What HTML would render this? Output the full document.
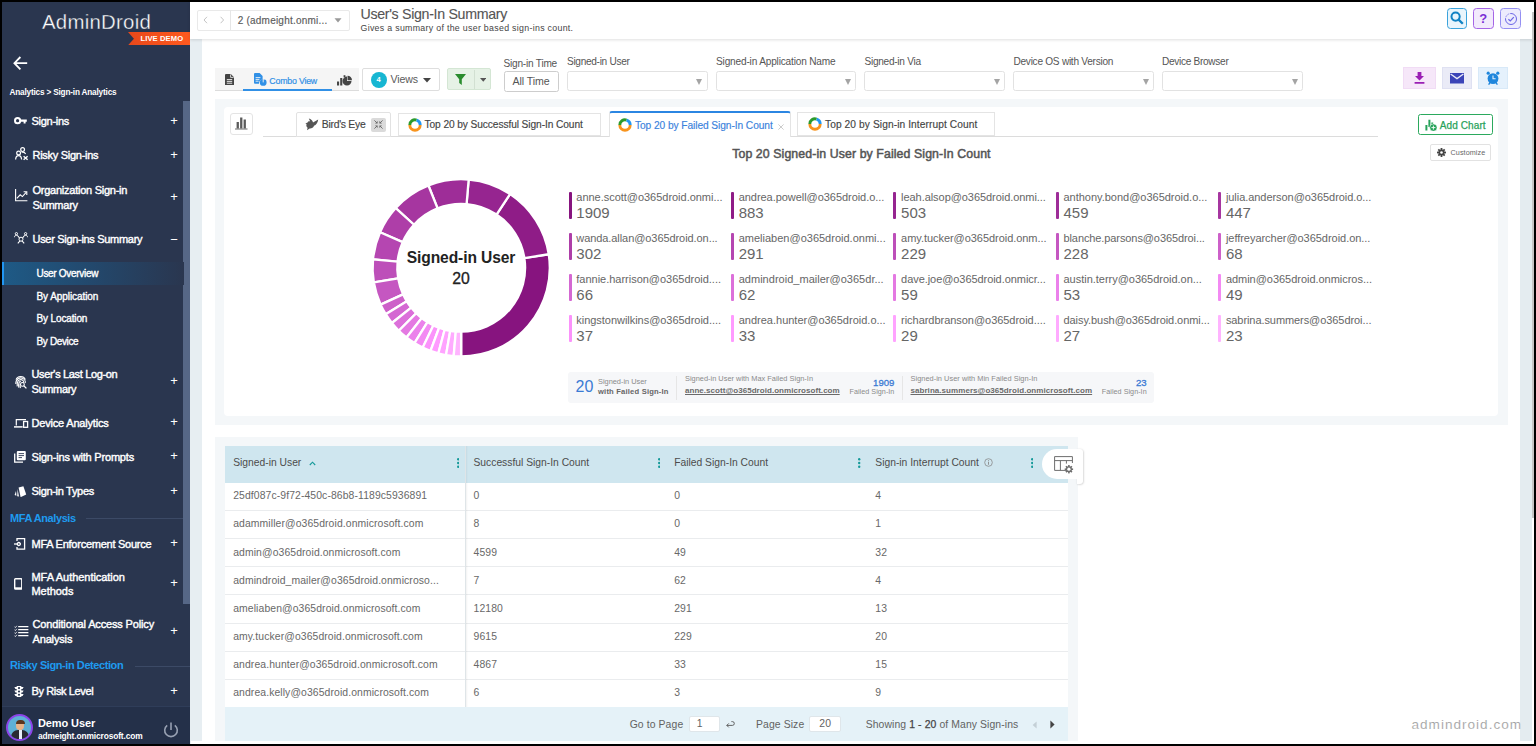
<!DOCTYPE html>
<html><head><meta charset="utf-8"><title>AdminDroid</title>
<style>
*{box-sizing:border-box;margin:0;padding:0}
html,body{width:1536px;height:746px;overflow:hidden;background:#000;font-family:"Liberation Sans",sans-serif;}
#root{position:absolute;left:0;top:0;width:1536px;height:746px;overflow:hidden;background:#000}
#root div,#root span,#root svg{position:absolute}
.t{white-space:nowrap;line-height:1}
/*SIDEBAR*/
.mi{left:31.5px;font-size:11px;font-weight:normal;-webkit-text-stroke:0.4px #fff;color:#fff;white-space:nowrap;line-height:14.5px;letter-spacing:-0.3px}
.sub{left:36.5px;font-size:10px;font-weight:normal;-webkit-text-stroke:0.35px #fff;color:#fff;white-space:nowrap;line-height:12px;letter-spacing:-0.2px}
.pl{left:169px;width:10px;text-align:center;font-size:13px;color:#fff;line-height:12px}
.sec{left:10px;font-size:11px;font-weight:bold;color:#1e9bf0;white-space:nowrap;line-height:12px;letter-spacing:-0.42px}
.secl{height:1px;background:#3c4a66}
.selb{top:71px;width:140.8px;height:20.4px;border:1px solid #e2e2e2;border-radius:2.5px;background:#fff}
.car{top:78.5px;width:0;height:0;border-left:3px solid transparent;border-right:3px solid transparent;border-top:6px solid #a4a4a4}
.lg1{font-size:11px;color:#666;letter-spacing:0.2px}
.lg2{font-size:15px;color:#666}
.tb{font-size:9.6px;color:#444;-webkit-text-stroke:0.15px #444}
.ss{font-size:7.4px;color:#8a8a8a}
.td{font-size:10.4px;color:#686868;letter-spacing:0.1px}
.th{font-size:10.3px;color:#4c4c4c;letter-spacing:0px}
.tf{font-size:10.4px;color:#626262;letter-spacing:0.1px}
#tn{font-size:10px !important;letter-spacing:0.221px !important}
#ttl{font-size:14.2px !important;letter-spacing:-0.309px !important}
#stl{font-size:8.8px !important;letter-spacing:0.303px !important}
#vw{font-size:10.6px !important;letter-spacing:-0.156px !important}
#l0{font-size:10.1px !important;letter-spacing:-0.217px !important}
#at{font-size:10.6px !important;letter-spacing:-0.073px !important}
#l1{font-size:10.1px !important;letter-spacing:-0.305px !important}
#l2{font-size:10.1px !important;letter-spacing:-0.174px !important}
#l3{font-size:10.1px !important;letter-spacing:-0.274px !important}
#l4{font-size:10.1px !important;letter-spacing:-0.267px !important}
#l5{font-size:10.1px !important;letter-spacing:-0.299px !important}
#be{font-size:10.4px !important;letter-spacing:-0.285px !important}
#tb2{font-size:10.2px !important;letter-spacing:-0.094px !important}
#tb3{font-size:10.2px !important;letter-spacing:-0.073px !important}
#tb4{font-size:10.2px !important;letter-spacing:0.090px !important}
#ct{font-size:12.3px !important;letter-spacing:0.107px !important}
#lg0{font-size:11.0px !important;letter-spacing:-0.026px !important}
#lg1{font-size:11.0px !important;letter-spacing:-0.048px !important}
#lg2{font-size:11.0px !important;letter-spacing:-0.055px !important}
#lg3{font-size:11.0px !important;letter-spacing:-0.015px !important}
#lg4{font-size:11.0px !important;letter-spacing:-0.050px !important}
#lg5{font-size:11.0px !important;letter-spacing:-0.073px !important}
#lg6{font-size:11.0px !important;letter-spacing:0.003px !important}
#lg7{font-size:11.0px !important;letter-spacing:-0.048px !important}
#lg8{font-size:11.0px !important;letter-spacing:-0.095px !important}
#lg9{font-size:11.0px !important;letter-spacing:-0.034px !important}
#lg10{font-size:11.0px !important;letter-spacing:-0.014px !important}
#lg11{font-size:11.0px !important;letter-spacing:0.020px !important}
#lg12{font-size:11.0px !important;letter-spacing:-0.061px !important}
#lg13{font-size:11.0px !important;letter-spacing:-0.020px !important}
#lg14{font-size:11.0px !important;letter-spacing:-0.030px !important}
#lg15{font-size:11.0px !important;letter-spacing:-0.034px !important}
#lg16{font-size:11.0px !important;letter-spacing:0.002px !important}
#lg17{font-size:11.0px !important;letter-spacing:-0.039px !important}
#lg18{font-size:11.0px !important;letter-spacing:-0.062px !important}
#lg19{font-size:11.0px !important;letter-spacing:-0.075px !important}
#ss1{font-size:7.4px !important;letter-spacing:-0.006px !important}
#ss2{font-size:7.6px !important;letter-spacing:0.191px !important}
#smx{font-size:7.4px !important;letter-spacing:0.007px !important}
#lmx{font-size:8px !important;letter-spacing:0.043px !important}
#smn{font-size:7.4px !important;letter-spacing:0.031px !important}
#lmn{font-size:8px !important;letter-spacing:0.054px !important}
#fs1{font-size:7.2px !important;letter-spacing:0.039px !important}
#fs2{font-size:7.2px !important;letter-spacing:0.039px !important}
#cv{font-size:8.8px !important;letter-spacing:-0.202px !important}
#wm{font-size:13.6px !important;letter-spacing:0.992px !important}
#m0{font-size:11px !important;letter-spacing:-0.281px !important}
#m1{font-size:11px !important;letter-spacing:-0.278px !important}
#m2{font-size:11px !important;letter-spacing:-0.249px !important}
#m3{font-size:11px !important;letter-spacing:-0.307px !important}
#m4{font-size:11px !important;letter-spacing:-0.338px !important}
#m5{font-size:11px !important;letter-spacing:-0.187px !important}
#m6{font-size:11px !important;letter-spacing:-0.185px !important}
#m7{font-size:11px !important;letter-spacing:-0.312px !important}
#m8{font-size:11px !important;letter-spacing:-0.247px !important}
#m9{font-size:11px !important;letter-spacing:-0.043px !important}
#m10{font-size:11px !important;letter-spacing:-0.154px !important}
#m11{font-size:11px !important;letter-spacing:-0.380px !important}
#sb0{font-size:10px !important;letter-spacing:-0.306px !important}
#sb1{font-size:10px !important;letter-spacing:-0.073px !important}
#sb2{font-size:10px !important;letter-spacing:-0.133px !important}
#sb3{font-size:10px !important;letter-spacing:-0.357px !important}
</style></head><body>
<div id="root">
<div style="left:2px;top:2px;width:1532px;height:742px;background:#fff"></div>
<!--SIDE-->
<div id="sidebg" style="left:2px;top:2px;width:188.3px;height:742px;background:#2a364f"></div>

<div class="t" id="logo" style="left:42px;top:10.3px;font-size:20.4px;color:#fff;letter-spacing:0.25px;line-height:24px;-webkit-text-stroke:0.35px #2a364f">AdminDroid</div>
<svg style="left:128px;top:31.7px" width="62.4" height="13.3" viewBox="0 0 63 14" preserveAspectRatio="none"><defs><linearGradient id="lg" x1="0" x2="1"><stop offset="0" stop-color="#e8481a"/><stop offset="1" stop-color="#ff5a1f"/></linearGradient></defs><path d="M0 0H63V14H0L6 7Z" fill="url(#lg)"/></svg>
<div class="t" id="live" style="left:140.5px;top:35.2px;font-size:7.6px;font-weight:bold;color:#fff;letter-spacing:0.1px">LIVE DEMO</div>
<svg style="left:13px;top:55.5px" width="15" height="15" viewBox="0 0 15 15"><path d="M14.2 7.2H2M7.4 1L1.4 7.2L7.4 13.4" fill="none" stroke="#fff" stroke-width="1.8"/></svg>
<div class="t" id="bc" style="left:9.5px;top:88.7px;font-size:8.2px;font-weight:bold;color:#fff;letter-spacing:-0.17px">Analytics &gt; Sign-in Analytics</div>
<!-- scrollbar -->
<div style="left:183.2px;top:101px;width:7.1px;height:503px;background:#566786"></div>

<div class="mi" id="m0" style="top:114px">Sign-ins</div><div class="pl" style="top:115px">+</div>
<div class="mi" id="m1" style="top:148px;left:32.5px">Risky Sign-ins</div><div class="pl" style="top:149px">+</div>
<div class="mi" id="m2" style="top:183px;left:32.5px">Organization Sign-in<br>Summary</div><div class="pl" style="top:191px">+</div>
<div class="mi" id="m3" style="top:232px;left:32.5px">User Sign-ins Summary</div><div class="pl" style="top:233.5px">&#8722;</div>

<div style="left:2px;top:262px;width:181.5px;height:22.5px;background:linear-gradient(90deg,#1e5a86 0%,#23486c 50%,#2a364f 100%)"></div>
<div style="left:2px;top:262px;width:2px;height:22.5px;background:#2196f3"></div>
<div class="sub" id="sb0" style="top:268.2px">User Overview</div>
<div class="sub" id="sb1" style="top:290.9px">By Application</div>
<div class="sub" id="sb2" style="top:313.4px">By Location</div>
<div class="sub" id="sb3" style="top:335.9px">By Device</div>

<div class="mi" id="m4" style="top:367px">User's Last Log-on<br>Summary</div><div class="pl" style="top:375px">+</div>
<div class="mi" id="m5" style="top:415.5px">Device Analytics</div><div class="pl" style="top:416px">+</div>
<div class="mi" id="m6" style="top:449.5px">Sign-ins with Prompts</div><div class="pl" style="top:450px">+</div>
<div class="mi" id="m7" style="top:484px">Sign-in Types</div><div class="pl" style="top:484.5px">+</div>
<div class="sec" style="top:512px">MFA Analysis</div><div class="secl" style="left:86px;top:518px;width:97px"></div>
<div class="mi" id="m8" style="top:536.5px">MFA Enforcement Source</div><div class="pl" style="top:537px">+</div>
<div class="mi" id="m9" style="top:569.5px">MFA Authentication<br>Methods</div><div class="pl" style="top:577px">+</div>
<div class="mi" id="m10" style="top:617px;left:32.5px">Conditional Access Policy<br>Analysis</div><div class="pl" style="top:625px">+</div>
<div class="sec" style="top:659px">Risky Sign-in Detection</div><div class="secl" style="left:135px;top:665.5px;width:55px"></div>
<div class="mi" id="m11" style="top:684px">By Risk Level</div><div class="pl" style="top:684.5px">+</div>
<!-- footer -->
<div style="left:2px;top:706px;width:188.3px;height:38px;background:#243049;border-top:1px solid #2f3d59"></div>
<div style="left:6px;top:714px;width:27px;height:27px;border-radius:50%;background:#5fb0d6;border:2px solid #8b45e8;overflow:hidden">
 <div style="left:8px;top:4.5px;width:8px;height:9px;border-radius:45%;background:#e9b48a"></div>
 <div style="left:7.5px;top:3.5px;width:9px;height:4px;border-radius:4px 4px 0 0;background:#5a3620"></div>
 <div style="left:3px;top:14px;width:18px;height:14px;border-radius:7px 7px 0 0;background:#2a2a33"></div>
 <div style="left:10.5px;top:13.5px;width:3px;height:12px;background:#e8eef8"></div>
</div>
<div class="t" id="du" style="left:38px;top:717.5px;font-size:11px;font-weight:bold;color:#fff;letter-spacing:-0.1px">Demo User</div>
<div class="t" id="dm" style="left:38px;top:732.3px;font-size:8.4px;font-weight:bold;color:#fff;letter-spacing:-0.12px">admeight.onmicrosoft.com</div>
<svg style="left:161.5px;top:721.2px" width="18" height="18" viewBox="0 0 18 18"><path d="M9 1.5V9" stroke="#98a1b3" stroke-width="1.6" fill="none"/><path d="M5.2 4.3A6.3 6.3 0 1 0 12.8 4.3" stroke="#98a1b3" stroke-width="1.6" fill="none"/></svg>
<!-- icons -->
<svg style="left:14px;top:117px" width="13" height="8" viewBox="0 0 13 8"><circle cx="3.6" cy="3.7" r="2.6" fill="none" stroke="#fff" stroke-width="2"/><path d="M6 2.6H12.8V4.8H11.6V6.6H9.6V4.8H6Z" fill="#fff"/></svg>
<svg style="left:15px;top:147px" width="13.5" height="13.5" viewBox="0 0 13.5 13.5"><g fill="none" stroke="#fff" stroke-width="1.2"><circle cx="7.6" cy="2.6" r="1.9"/><circle cx="3.6" cy="6" r="1.9"/><path d="M0.6 12.5C0.8 9.6 2 8.6 3.6 8.6S6.4 9.6 6.6 12.5"/><path d="M6.6 5.2C8.6 5 10 5.6 10.6 7"/><path d="M8.6 9.2L12.6 12.8M12.6 9.2L8.6 12.8" stroke-width="1.4"/></g></svg>
<svg style="left:15px;top:189px" width="13" height="12.5" viewBox="0 0 13 12.5"><g fill="none" stroke="#fff" stroke-width="1.1"><path d="M0.6 0V11.8H12.4"/><path d="M1.8 9.4L5.2 5.8L7.4 7.6L11.4 3.2"/><path d="M8.6 2.8H11.8V6"/></g></svg>
<svg style="left:14px;top:231.5px" width="14" height="12" viewBox="0 0 14 12"><g fill="none" stroke="#fff" stroke-width="1"><circle cx="2.4" cy="1.7" r="1.15"/><circle cx="11.6" cy="1.7" r="1.15"/><path d="M0.5 5.2C0.6 3.8 1.3 3.2 2.4 3.2S4 3.7 4.3 4.4"/><path d="M13.5 5.2C13.4 3.8 12.7 3.2 11.6 3.2S10 3.7 9.7 4.4"/><path d="M3.8 4L10.2 11.4M10.2 4L3.8 11.4" stroke-width="1.1"/><circle cx="7" cy="7.2" r="2" fill="#2a364f"/></g></svg>
<svg style="left:15px;top:374.5px" width="12" height="14" viewBox="0 0 12 14"><g fill="none" stroke="#fff" stroke-width="1.1"><path d="M1 4.6C2.4 0.6 8.6 0.2 10.4 4.6"/><path d="M0.8 9C0.6 3.6 5 2.2 7.4 3.2S10.6 6.6 10.2 8"/><path d="M2.2 11.4C1.6 6 4 4.4 6 4.6S9 6.4 8.6 8"/><path d="M3.8 12.6C3.2 8 4.2 6.4 5.8 6.4"/><path d="M5.4 13.2C5 11 5 9.6 5.2 8.6"/></g><circle cx="7.4" cy="9.4" r="1.9" fill="#2a364f" stroke="#fff" stroke-width="1.1"/><path d="M8.8 10.8L11.4 13.4" stroke="#fff" stroke-width="1.3"/></svg>
<svg style="left:14px;top:418.5px" width="14.5" height="9" viewBox="0 0 14.5 9"><g fill="none" stroke="#fff"><path d="M2.3 6.6V0.6H12" stroke-width="1.2"/><path d="M0 7.9H8.6" stroke-width="1.5"/><rect x="9.6" y="2.5" width="4" height="5.8" stroke-width="1.3"/></g></svg>
<svg style="left:14px;top:450.5px" width="12" height="12" viewBox="0 0 12 12"><path d="M0.7 2.6V11.2H9" fill="none" stroke="#fff" stroke-width="1.3"/><rect x="2.8" y="0" width="9" height="9.2" rx="1" fill="#fff"/><path d="M4.6 2.6H10M4.6 4.6H10M4.6 6.6H8" stroke="#2a364f" stroke-width="0.9"/></svg>
<svg style="left:14px;top:485.5px" width="12.5" height="11.5" viewBox="0 0 12.5 11.5"><path d="M4.6 1.6L9.4 0.2L12.2 8.6L6.6 11.2Z" fill="#fff"/><path d="M3.6 3L5 10.6L3.2 10.2Z" fill="#fff"/><path d="M2 5L2.4 9.8L0.6 9Z" fill="#fff"/></svg>
<svg style="left:14px;top:537.5px" width="11.5" height="12" viewBox="0 0 11.5 12"><g fill="none" stroke="#fff" stroke-width="1.3"><path d="M3 3V0.7H10.6V11.2H3V9"/><path d="M0 6H7"/><circle cx="4.8" cy="6" r="1.5" fill="#2a364f"/></g></svg>
<svg style="left:13.8px;top:577.5px" width="8.5" height="12" viewBox="0 0 8.5 12"><rect x="0.7" y="0.7" width="7.1" height="10.4" rx="0.8" fill="none" stroke="#fff" stroke-width="1.4"/><path d="M0.7 10.2H7.8" stroke="#fff" stroke-width="1.8"/></svg>
<svg style="left:14px;top:625px" width="14.5" height="12" viewBox="0 0 14.5 12"><g fill="none" stroke="#fff" stroke-width="1.1"><path d="M4.2 1.6H14.4M4.2 4.6H14.4M4.2 7.6H14.4M4.2 10.6H14.4"/><path d="M0.4 1.6L1.4 2.6L2.8 0.8M0.4 4.6L1.4 5.6L2.8 3.8M0.4 7.6L1.4 8.6L2.8 6.8M0.4 10.6L1.4 11.6L2.8 9.8" stroke-width="0.8"/></g></svg>
<svg style="left:13.6px;top:686px" width="10" height="11" viewBox="0 0 10.5 12.5"><path d="M2.6 0H7.9V12.5H2.6Z M0 1H2.6V3.4H1.2Z M0 5H2.6V7.4H1.2Z M0 9H2.6V11.4H1.2Z M10.5 1H7.9V3.4H9.3Z M10.5 5H7.9V7.4H9.3Z M10.5 9H7.9V11.4H9.3Z" fill="#fff"/><circle cx="5.25" cy="2.4" r="1.2" fill="#2a364f"/><circle cx="5.25" cy="6.2" r="1.2" fill="#2a364f"/><circle cx="5.25" cy="10" r="1.2" fill="#2a364f"/></svg>

<!-- content backgrounds -->
<div style="left:190.3px;top:39px;width:12.2px;height:705px;background:#e7eef2"></div>
<div style="left:1520px;top:39px;width:12px;height:702px;background:#e4ecf0"></div>
<div style="left:1532px;top:12px;width:2.2px;height:505.7px;background:#c6c6c6"></div>
<!-- top bar -->
<div style="left:190.3px;top:2px;width:1343.7px;height:36.5px;background:#fff;box-shadow:0 1px 3px rgba(0,0,0,0.13)"></div>
<div style="left:1532px;top:12px;width:2.2px;height:505.7px;background:#c6c6c6"></div>
<div style="left:197px;top:9.5px;width:153px;height:21px;border:1px solid #e9e9e9;border-radius:2px;background:#fff"></div>
<div style="left:229.5px;top:10px;width:1px;height:20px;background:#e6e6e6"></div>
<svg style="left:203px;top:16px" width="22" height="8" viewBox="0 0 22 8"><path d="M4 0.8L1 4L4 7.2M17.6 0.8L20.6 4L17.6 7.2" fill="none" stroke="#c4c4c4" stroke-width="1"/></svg>
<div class="t" id="tn" style="left:237.7px;top:15.6px;font-size:9.6px;color:#5c5c5c;-webkit-text-stroke:0.15px #5c5c5c">2 (admeight.onmi...</div>
<svg style="left:334px;top:18px" width="8" height="5" viewBox="0 0 8 5"><path d="M0.5 0.3H7.5L4 4.4Z" fill="#9a9a9a"/></svg>
<div class="t" id="ttl" style="left:360.5px;top:6.5px;font-size:14.2px;color:#555;-webkit-text-stroke:0.12px #555;letter-spacing:-0.1px">User's Sign-In Summary</div>
<div class="t" id="stl" style="left:360.5px;top:23.5px;font-size:8.2px;color:#444;letter-spacing:-0.02px">Gives a summary of the user based sign-ins count.</div>
<!-- top right icons -->
<div style="left:1446.5px;top:8px;width:20.5px;height:20.5px;border:1.2px solid #3ba3dc;border-radius:3.5px;background:#e9f5fc"></div>
<svg style="left:1450px;top:11.2px" width="14" height="14" viewBox="0 0 14 14"><circle cx="5.6" cy="5.6" r="4.1" fill="none" stroke="#1283c4" stroke-width="2"/><path d="M8.6 8.6L12.8 12.8" stroke="#1283c4" stroke-width="2.3"/></svg>
<div style="left:1473px;top:8px;width:20.5px;height:20.5px;border:1.2px solid #a565e6;border-radius:3.5px;background:#f2eafc"></div>
<div class="t" style="left:1479.3px;top:11.5px;font-size:13px;font-weight:bold;color:#7a2fd6">?</div>
<div style="left:1500px;top:8px;width:20.5px;height:20.5px;border:1.2px solid #9590f2;border-radius:3.5px;background:#edecfd"></div>
<svg style="left:1503.5px;top:11.5px" width="14" height="14" viewBox="0 0 14 14"><path d="M7 1.5A5.5 5.5 0 1 1 1.5 7" fill="none" stroke="#6b66e6" stroke-width="1"/><path d="M1.5 7A5.5 5.5 0 0 1 7 1.5" fill="none" stroke="#6b66e6" stroke-width="1" stroke-dasharray="1.2 1.2"/><path d="M4.4 7.2L6.3 9L9.8 5.2" fill="none" stroke="#6b66e6" stroke-width="1.2"/></svg>
<!--FILTER-->
<!-- view tabs -->
<div style="left:214.5px;top:68px;width:144.5px;height:23px;background:#f5f5f5;border-bottom:1px solid #dcdcdc"></div>
<svg style="left:224.5px;top:73.5px" width="9" height="11.5" viewBox="0 0 9 11.5"><path d="M1 0H5.8L9 3.2V10.5A1 1 0 0 1 8 11.5H1A1 1 0 0 1 0 10.5V1A1 1 0 0 1 1 0Z" fill="#444"/><path d="M5.6 0.4V3.4H8.6" fill="none" stroke="#f5f5f5" stroke-width="0.8"/><path d="M1.8 5.6H7.2M1.8 7.4H7.2M1.8 9.2H7.2" stroke="#f5f5f5" stroke-width="0.9"/></svg>
<svg style="left:253.5px;top:73px" width="13" height="13" viewBox="0 0 13 13"><path d="M1 0H5.6L8.6 3V6.2A4 4 0 0 0 5 10.8H1A1 1 0 0 1 0 9.8V1A1 1 0 0 1 1 0Z" fill="#3190e6"/><path d="M1.6 4.6H6.4M1.6 6.4H5.4M1.6 8.2H4.6" stroke="#f5f5f5" stroke-width="0.9"/><circle cx="9.2" cy="9.4" r="3.4" fill="#3190e6"/><path d="M9.2 9.4V6H12.6" fill="none" stroke="#f5f5f5" stroke-width="0.9"/></svg>
<div class="t" id="cv" style="left:269.3px;top:77px;font-size:8.8px;color:#3190e6;-webkit-text-stroke:0.2px #3190e6;letter-spacing:0.22px">Combo View</div>
<div style="left:242.5px;top:89px;width:89px;height:2px;background:#3190e6"></div>
<svg style="left:337px;top:73.5px" width="15" height="12" viewBox="0 0 15 12"><path d="M0 7.4H2.1V11.6H0Z M3.2 4H5.3V11.6H3.2Z" fill="#444"/><path d="M10 2.6A4.5 4.5 0 1 0 14.5 7.1H10Z" fill="#444"/><path d="M10.9 1.6A4.5 4.5 0 0 1 15.4 6.1H10.9Z" fill="#444" transform="translate(-0.4 0.2)"/><path d="M6.6 1.2H8.4V3.4H6.6Z" fill="#444"/></svg>
<!-- views button -->
<div style="left:361.5px;top:68px;width:78.5px;height:23px;border:1px solid #dedede;border-radius:2px;background:#fff"></div>
<div style="left:370.8px;top:71.8px;width:15.8px;height:15.8px;border-radius:50%;background:#17b6d2"></div>
<div class="t" style="left:376.6px;top:76.2px;font-size:7.5px;color:#fff;font-weight:bold">4</div>
<div class="t" id="vw" style="left:390.5px;top:74.3px;font-size:12px;color:#5a5a5a;letter-spacing:0.1px">Views</div>
<svg style="left:423px;top:77.5px" width="8" height="5" viewBox="0 0 8 5"><path d="M0 0H8L4 4.6Z" fill="#444"/></svg>
<!-- filter button -->
<div style="left:446.5px;top:68px;width:44.5px;height:22px;background:#e6f2e6;border:1px solid #d4e6d4;border-radius:2px"></div>
<div style="left:474px;top:69.5px;width:1px;height:19.5px;background:#d2e0d2"></div>
<svg style="left:455px;top:74px" width="11" height="11" viewBox="0 0 11 11"><path d="M0 0H11L6.8 5.2V11L4.2 9V5.2Z" fill="#2a8c2e"/></svg>
<svg style="left:479.5px;top:78px" width="6.5" height="4" viewBox="0 0 6.5 4"><path d="M0 0H6.5L3.25 3.8Z" fill="#555"/></svg>
<!-- Sign-in time -->
<div class="t lab" id="l0" style="left:503.5px;top:59.4px;font-size:10px;color:#555">Sign-in Time</div>
<div style="left:503.5px;top:71px;width:55.5px;height:20.6px;border:1px solid #cdcdcd;border-radius:2.5px;background:#fff"></div>
<div class="t" id="at" style="left:512.5px;top:76px;font-size:11.2px;color:#555;letter-spacing:0.15px">All Time</div>
<!-- selects -->
<div class="t lab" id="l1" style="left:567px;top:56.5px;font-size:10px;color:#555">Signed-in User</div>
<div class="t lab" id="l2" style="left:716px;top:56.5px;font-size:10px;color:#555">Signed-in Application Name</div>
<div class="t lab" id="l3" style="left:864.5px;top:56.5px;font-size:10px;color:#555">Signed-in Via</div>
<div class="t lab" id="l4" style="left:1013.5px;top:56.5px;font-size:10px;color:#555">Device OS with Version</div>
<div class="t lab" id="l5" style="left:1162px;top:56.5px;font-size:10px;color:#555">Device Browser</div>
<div class="selb" style="left:567px"></div><div class="car" style="left:696px"></div>
<div class="selb" style="left:715.7px"></div><div class="car" style="left:845px"></div>
<div class="selb" style="left:864.4px"></div><div class="car" style="left:994px"></div>
<div class="selb" style="left:1013.1px"></div><div class="car" style="left:1143px"></div>
<div class="selb" style="left:1161.8px"></div><div class="car" style="left:1291.5px"></div>
<!-- action buttons -->
<div style="left:1403px;top:67px;width:33px;height:22px;background:#f6e7f9;border:1px solid #f1dcf5"></div>
<svg style="left:1413.5px;top:72px" width="11" height="12" viewBox="0 0 11 12"><path d="M3.6 0H7.4V4H10L5.5 8.4L1 4H3.6Z M0.6 10H10.4V11.8H0.6Z" fill="#9a1fb4"/></svg>
<div style="left:1442px;top:67px;width:30px;height:22px;background:#eaebf7;border:1px solid #dfe1f2"></div>
<svg style="left:1450px;top:73px" width="14" height="10.5" viewBox="0 0 14 10.5"><path d="M0 0H14V10.5H0Z" fill="#3b44b8"/><path d="M0.6 1L7 5.6L13.4 1" fill="none" stroke="#eaebf7" stroke-width="1.3"/></svg>
<div style="left:1478.2px;top:67px;width:29.8px;height:22px;background:#e5f1fc;border:1px solid #d8e9f8"></div>
<svg style="left:1486px;top:70.5px" width="14" height="14" viewBox="0 0 14 14"><circle cx="7" cy="7.6" r="5.4" fill="#1f86dc"/><circle cx="2.2" cy="2.2" r="1.6" fill="#1f86dc"/><circle cx="11.8" cy="2.2" r="1.6" fill="#1f86dc"/><path d="M2.6 13.6L4.2 11.4M11.4 13.6L9.8 11.4" stroke="#1f86dc" stroke-width="1.4"/><path d="M7 4.4V7.8H9.6" fill="none" stroke="#e5f1fc" stroke-width="1.1"/></svg>

<!--CHART-->
<!-- chart panel -->
<div style="left:214.5px;top:98.5px;width:1293.5px;height:326px;background:#f4f7f9"></div>
<div style="left:223.5px;top:107px;width:1274.5px;height:309px;background:#fff;border-radius:4px"></div>
<div style="left:229.5px;top:112.5px;width:23.2px;height:22.2px;border:1px solid #e4e4e4;border-radius:3px;background:#fff"></div>
<svg style="left:235px;top:117px" width="12.5" height="13" viewBox="0 0 12.5 13"><path d="M1.6 5H3.9V11.4H1.6Z M5.1 0.4H7.4V11.4H5.1Z M8.6 2.6H10.9V11.4H8.6Z" fill="#5a5a5a"/><path d="M0 12H12.5" stroke="#5a5a5a" stroke-width="0.9"/></svg>
<div style="left:263px;top:135.8px;width:1115px;height:1px;background:#dcdcdc"></div>
<!-- tab1 -->
<div style="left:295.5px;top:112px;width:95.5px;height:24.5px;border:1px solid #e2e2e2;border-radius:2px 2px 0 0;background:#fff"></div>
<svg style="left:305.3px;top:118px" width="13.5" height="12.5" viewBox="0 0 13.5 12.5"><path d="M0.3 5.4L2.6 4.6C3 3.4 4.2 3 5.2 3.6L3.8 0.4C6 0.8 7.6 2.4 8 4.4L13.2 1.4C12.8 4.6 11.2 6.8 9 7.8C8.4 9.6 6.6 10.8 4.6 10.6L2 12.2L2.6 9.8C1.4 8.8 1 7.2 1.6 5.9Z" fill="#555"/></svg>
<div class="t" id="be" style="left:321.8px;top:120.2px;font-size:10.2px;color:#444;-webkit-text-stroke:0.15px #444;letter-spacing:0.05px">Bird's Eye</div>
<div style="left:370.5px;top:117.5px;width:15.4px;height:14.2px;background:#dadada;border-radius:2px"></div>
<svg style="left:373.7px;top:120.1px" width="9" height="9" viewBox="0 0 9 9"><path d="M3.6 1V3.6H1Z M5.4 1V3.6H8Z M3.6 8V5.4H1Z M5.4 8V5.4H8Z" fill="#666"/><path d="M0.4 0.4L3 3M8.6 0.4L6 3M0.4 8.6L3 6M8.6 8.6L6 6" stroke="#666" stroke-width="0.9"/></svg>
<!-- tab2 -->
<div style="left:397.8px;top:112.5px;width:203.5px;height:23.3px;border:1px solid #e4e4e4;background:#fff"></div>
<svg class="dn" style="left:408px;top:117.6px" width="14" height="14" viewBox="0 0 14 14"><path d="M12.2 7A5.2 5.2 0 0 1 1.8 7" fill="none" stroke="#f8941d" stroke-width="2.9"/><path d="M1.8 7A5.2 5.2 0 0 1 8.6 2.05" fill="none" stroke="#2c9a2c" stroke-width="2.9"/><path d="M8.6 2.05A5.2 5.2 0 0 1 12.2 7" fill="none" stroke="#2196f3" stroke-width="2.9"/></svg>
<div class="t tb" id="tb2" style="left:424.5px;top:120.3px">Top 20 by Successful Sign-In Count</div>
<!-- tab3 active -->
<div style="left:608.5px;top:111.4px;width:182.6px;height:25.6px;border:1px solid #e4e4e4;border-top:2px solid #2b86e2;border-bottom:none;border-radius:3px 3px 0 0;background:#fff"></div>
<svg class="dn" style="left:618.2px;top:117.8px" width="14" height="14" viewBox="0 0 14 14"><path d="M12.2 7A5.2 5.2 0 0 1 1.8 7" fill="none" stroke="#f8941d" stroke-width="2.9"/><path d="M1.8 7A5.2 5.2 0 0 1 8.6 2.05" fill="none" stroke="#2c9a2c" stroke-width="2.9"/><path d="M8.6 2.05A5.2 5.2 0 0 1 12.2 7" fill="none" stroke="#2196f3" stroke-width="2.9"/></svg>
<div class="t tb" id="tb3" style="left:635px;top:120.8px;color:#3a82dc;-webkit-text-stroke:0.15px #3a82dc">Top 20 by Failed Sign-In Count</div>
<svg style="left:778px;top:123.8px" width="6" height="6" viewBox="0 0 6 6"><path d="M0.4 0.4L5.6 5.6M5.6 0.4L0.4 5.6" stroke="#c6c6c6" stroke-width="0.9"/></svg>
<!-- tab4 -->
<div style="left:797.3px;top:112px;width:198.2px;height:23.8px;border:1px solid #e4e4e4;background:#fff"></div>
<svg class="dn" style="left:808px;top:117.4px" width="14" height="14" viewBox="0 0 14 14"><path d="M12.2 7A5.2 5.2 0 0 1 1.8 7" fill="none" stroke="#f8941d" stroke-width="2.9"/><path d="M1.8 7A5.2 5.2 0 0 1 8.6 2.05" fill="none" stroke="#2c9a2c" stroke-width="2.9"/><path d="M8.6 2.05A5.2 5.2 0 0 1 12.2 7" fill="none" stroke="#2196f3" stroke-width="2.9"/></svg>
<div class="t tb" id="tb4" style="left:825px;top:120px">Top 20 by Sign-in Interrupt Count</div>
<!-- add chart -->
<div style="left:1418px;top:114px;width:75px;height:21px;border:1.2px solid #2ba95d;border-radius:2.5px;background:#fff"></div>
<svg style="left:1424.8px;top:118.6px" width="12.5" height="12.5" viewBox="0 0 12.5 12.5"><path d="M0.4 6H2.4V11.4H0.4Z M3.4 0.8H5.4V8H3.4Z M6.4 3.4H8.2V6H6.4Z" fill="#27a25a"/><circle cx="8.4" cy="8.6" r="3.7" fill="#27a25a" stroke="#fff" stroke-width="0.6"/><path d="M8.4 6.6V10.6M6.4 8.6H10.4" stroke="#fff" stroke-width="0.9"/></svg>
<div class="t" id="ac" style="left:1439.8px;top:121px;font-size:10px;color:#27a25a;-webkit-text-stroke:0.25px #27a25a;letter-spacing:0.1px">Add Chart</div>
<!-- customize -->
<div style="left:1430px;top:143.8px;width:60.5px;height:17.2px;border:1px solid #e2e2e2;border-radius:2px;background:#fff"></div>
<svg style="left:1436.5px;top:148px" width="9" height="9" viewBox="0 0 9 9"><g fill="#444"><circle cx="4.5" cy="4.5" r="3"/><rect x="3.6" y="0" width="1.8" height="9"/><rect x="0" y="3.6" width="9" height="1.8"/><rect x="3.6" y="0" width="1.8" height="9" transform="rotate(45 4.5 4.5)"/><rect x="3.6" y="0" width="1.8" height="9" transform="rotate(-45 4.5 4.5)"/></g><circle cx="4.5" cy="4.5" r="1.3" fill="#fff"/></svg>
<div class="t" id="cz" style="left:1450.5px;top:149px;font-size:7.2px;color:#666;letter-spacing:0.1px">Customize</div>
<!-- title -->
<div class="t" id="ct" style="left:732.2px;top:147.6px;font-size:12.2px;font-weight:normal;-webkit-text-stroke:0.5px #555;color:#555">Top 20 Signed-in User by Failed Sign-In Count</div>
<!-- donut center -->
<div class="t" id="dc1" style="left:361px;top:249.5px;width:200px;text-align:center;font-size:15.6px;font-weight:bold;color:#222;letter-spacing:-0.1px">Signed-in User</div>
<div class="t" id="dc2" style="left:361px;top:271px;width:200px;text-align:center;font-size:15.8px;color:#222;-webkit-text-stroke:0.3px #222">20</div>
<!-- summary strip -->
<div style="left:567.8px;top:371.8px;width:586px;height:31.2px;background:#f6f7f9;border-radius:3px"></div>
<div class="t" id="s20" style="left:575.5px;top:378.5px;font-size:16px;color:#3b7bd4">20</div>
<div class="t ss" id="ss1" style="left:598px;top:377.8px">Signed-in User</div>
<div class="t ss" id="ss2" style="left:598px;top:387.5px;font-weight:bold;color:#666">with Failed Sign-In</div>
<div style="left:676px;top:375.5px;width:1px;height:24px;background:#e6e6e6"></div>
<div class="t ss" id="smx" style="left:685px;top:375.2px;font-size:7px">Signed-in User with Max Failed Sign-In</div>
<div class="t ss" id="lmx" style="left:685px;top:387.2px;font-weight:bold;color:#6a6a6a;text-decoration:underline;font-size:7.4px">anne.scott@o365droid.onmicrosoft.com</div>
<div class="t" id="n1909" style="left:834.4px;width:60px;text-align:right;top:377.5px;font-size:9.6px;-webkit-text-stroke:0.3px #3b7bd4;color:#3b7bd4">1909</div>
<div class="t ss" id="fs1" style="left:849.5px;top:388.3px;font-size:6.8px">Failed Sign-In</div>
<div style="left:901.8px;top:375.5px;width:1px;height:24px;background:#e6e6e6"></div>
<div class="t ss" id="smn" style="left:910.5px;top:375.2px;font-size:7px">Signed-in User with Min Failed Sign-In</div>
<div class="t ss" id="lmn" style="left:910.5px;top:387.2px;font-weight:bold;color:#6a6a6a;text-decoration:underline;font-size:7.4px">sabrina.summers@o365droid.onmicrosoft.com</div>
<div class="t" id="n23" style="left:1086.7px;width:60px;text-align:right;top:377.5px;font-size:9.6px;-webkit-text-stroke:0.3px #3b7bd4;color:#3b7bd4">23</div>
<div class="t ss" id="fs2" style="left:1101.8px;top:388.3px;font-size:6.8px">Failed Sign-In</div>
<svg style="left:0;top:0" width="1536" height="746" viewBox="0 0 1536 746">
<path d="M461.20 356.40A88.6 88.6 0 0 0 548.76 254.25L524.35 258.03A63.9 63.9 0 0 1 461.20 331.70Z" fill="#87147f" stroke="#fff" stroke-width="2.3"/>
<path d="M548.76 254.25A88.6 88.6 0 0 0 510.16 193.96L496.51 214.54A63.9 63.9 0 0 1 524.35 258.03Z" fill="#8f1c87" stroke="#fff" stroke-width="2.3"/>
<path d="M510.16 193.96A88.6 88.6 0 0 0 468.66 179.51L466.58 204.13A63.9 63.9 0 0 1 496.51 214.54Z" fill="#962590" stroke="#fff" stroke-width="2.3"/>
<path d="M468.66 179.51A88.6 88.6 0 0 0 428.44 185.48L437.57 208.43A63.9 63.9 0 0 1 466.58 204.13Z" fill="#9e2d98" stroke="#fff" stroke-width="2.3"/>
<path d="M428.44 185.48A88.6 88.6 0 0 0 395.74 208.09L413.99 224.74A63.9 63.9 0 0 1 437.57 208.43Z" fill="#a636a0" stroke="#fff" stroke-width="2.3"/>
<path d="M395.74 208.09A88.6 88.6 0 0 0 380.05 232.23L402.68 242.15A63.9 63.9 0 0 1 413.99 224.74Z" fill="#ae3ea8" stroke="#fff" stroke-width="2.3"/>
<path d="M380.05 232.23A88.6 88.6 0 0 0 373.01 259.28L397.60 261.66A63.9 63.9 0 0 1 402.68 242.15Z" fill="#b546b1" stroke="#fff" stroke-width="2.3"/>
<path d="M373.01 259.28A88.6 88.6 0 0 0 373.83 282.49L398.18 278.40A63.9 63.9 0 0 1 397.60 261.66Z" fill="#bd4fb9" stroke="#fff" stroke-width="2.3"/>
<path d="M373.83 282.49A88.6 88.6 0 0 0 380.62 304.63L403.08 294.36A63.9 63.9 0 0 1 398.18 278.40Z" fill="#c557c1" stroke="#fff" stroke-width="2.3"/>
<path d="M380.62 304.63A88.6 88.6 0 0 0 385.74 314.22L406.77 301.28A63.9 63.9 0 0 1 403.08 294.36Z" fill="#cd60c9" stroke="#fff" stroke-width="2.3"/>
<path d="M385.74 314.22A88.6 88.6 0 0 0 391.90 323.00L411.22 307.61A63.9 63.9 0 0 1 406.77 301.28Z" fill="#d468d2" stroke="#fff" stroke-width="2.3"/>
<path d="M391.90 323.00A88.6 88.6 0 0 0 398.86 330.75L416.24 313.20A63.9 63.9 0 0 1 411.22 307.61Z" fill="#dc70da" stroke="#fff" stroke-width="2.3"/>
<path d="M398.86 330.75A88.6 88.6 0 0 0 406.49 337.49L421.74 318.06A63.9 63.9 0 0 1 416.24 313.20Z" fill="#e479e2" stroke="#fff" stroke-width="2.3"/>
<path d="M406.49 337.49A88.6 88.6 0 0 0 414.46 343.07L427.49 322.08A63.9 63.9 0 0 1 421.74 318.06Z" fill="#eb81eb" stroke="#fff" stroke-width="2.3"/>
<path d="M414.46 343.07A88.6 88.6 0 0 0 422.71 347.60L433.44 325.36A63.9 63.9 0 0 1 427.49 322.08Z" fill="#f38af3" stroke="#fff" stroke-width="2.3"/>
<path d="M422.71 347.60A88.6 88.6 0 0 0 430.53 350.92L439.08 327.75A63.9 63.9 0 0 1 433.44 325.36Z" fill="#fb92fb" stroke="#fff" stroke-width="2.3"/>
<path d="M430.53 350.92A88.6 88.6 0 0 0 438.33 353.40L444.71 329.53A63.9 63.9 0 0 1 439.08 327.75Z" fill="#ff9aff" stroke="#fff" stroke-width="2.3"/>
<path d="M438.33 353.40A88.6 88.6 0 0 0 446.02 355.09L450.25 330.76A63.9 63.9 0 0 1 444.71 329.53Z" fill="#ffa3ff" stroke="#fff" stroke-width="2.3"/>
<path d="M446.02 355.09A88.6 88.6 0 0 0 453.68 356.08L455.78 331.47A63.9 63.9 0 0 1 450.25 330.76Z" fill="#ffabff" stroke="#fff" stroke-width="2.3"/>
<path d="M453.68 356.08A88.6 88.6 0 0 0 461.09 356.40L461.12 331.70A63.9 63.9 0 0 1 455.78 331.47Z" fill="#ffb4ff" stroke="#fff" stroke-width="2.3"/>
</svg>
<div style="left:568.5px;top:191.5px;width:3.2px;height:27.2px;background:#87147f;border-radius:1px"></div>
<div class="t lg1" id="lg0" style="left:576.3px;top:191.9px">anne.scott@o365droid.onmi...</div>
<div class="t lg2" style="left:576.3px;top:204.8px">1909</div>
<div style="left:730.9px;top:191.5px;width:3.2px;height:27.2px;background:#8f1c87;border-radius:1px"></div>
<div class="t lg1" id="lg1" style="left:738.7px;top:191.9px">andrea.powell@o365droid.o...</div>
<div class="t lg2" style="left:738.7px;top:204.8px">883</div>
<div style="left:893.3px;top:191.5px;width:3.2px;height:27.2px;background:#962590;border-radius:1px"></div>
<div class="t lg1" id="lg2" style="left:901.1px;top:191.9px">leah.alsop@o365droid.onmi...</div>
<div class="t lg2" style="left:901.1px;top:204.8px">503</div>
<div style="left:1055.7px;top:191.5px;width:3.2px;height:27.2px;background:#9e2d98;border-radius:1px"></div>
<div class="t lg1" id="lg3" style="left:1063.5px;top:191.9px">anthony.bond@o365droid.o...</div>
<div class="t lg2" style="left:1063.5px;top:204.8px">459</div>
<div style="left:1218.1px;top:191.5px;width:3.2px;height:27.2px;background:#a636a0;border-radius:1px"></div>
<div class="t lg1" id="lg4" style="left:1225.9px;top:191.9px">julia.anderson@o365droid.o...</div>
<div class="t lg2" style="left:1225.9px;top:204.8px">447</div>
<div style="left:568.5px;top:232.5px;width:3.2px;height:27.2px;background:#ae3ea8;border-radius:1px"></div>
<div class="t lg1" id="lg5" style="left:576.3px;top:232.9px">wanda.allan@o365droid.on...</div>
<div class="t lg2" style="left:576.3px;top:245.8px">302</div>
<div style="left:730.9px;top:232.5px;width:3.2px;height:27.2px;background:#b546b1;border-radius:1px"></div>
<div class="t lg1" id="lg6" style="left:738.7px;top:232.9px">ameliaben@o365droid.onmi...</div>
<div class="t lg2" style="left:738.7px;top:245.8px">291</div>
<div style="left:893.3px;top:232.5px;width:3.2px;height:27.2px;background:#bd4fb9;border-radius:1px"></div>
<div class="t lg1" id="lg7" style="left:901.1px;top:232.9px">amy.tucker@o365droid.onm...</div>
<div class="t lg2" style="left:901.1px;top:245.8px">229</div>
<div style="left:1055.7px;top:232.5px;width:3.2px;height:27.2px;background:#c557c1;border-radius:1px"></div>
<div class="t lg1" id="lg8" style="left:1063.5px;top:232.9px">blanche.parsons@o365droi...</div>
<div class="t lg2" style="left:1063.5px;top:245.8px">228</div>
<div style="left:1218.1px;top:232.5px;width:3.2px;height:27.2px;background:#cd60c9;border-radius:1px"></div>
<div class="t lg1" id="lg9" style="left:1225.9px;top:232.9px">jeffreyarcher@o365droid.on...</div>
<div class="t lg2" style="left:1225.9px;top:245.8px">68</div>
<div style="left:568.5px;top:273.5px;width:3.2px;height:27.2px;background:#d468d2;border-radius:1px"></div>
<div class="t lg1" id="lg10" style="left:576.3px;top:273.9px">fannie.harrison@o365droid....</div>
<div class="t lg2" style="left:576.3px;top:286.8px">66</div>
<div style="left:730.9px;top:273.5px;width:3.2px;height:27.2px;background:#dc70da;border-radius:1px"></div>
<div class="t lg1" id="lg11" style="left:738.7px;top:273.9px">admindroid_mailer@o365dr...</div>
<div class="t lg2" style="left:738.7px;top:286.8px">62</div>
<div style="left:893.3px;top:273.5px;width:3.2px;height:27.2px;background:#e479e2;border-radius:1px"></div>
<div class="t lg1" id="lg12" style="left:901.1px;top:273.9px">dave.joe@o365droid.onmicr...</div>
<div class="t lg2" style="left:901.1px;top:286.8px">59</div>
<div style="left:1055.7px;top:273.5px;width:3.2px;height:27.2px;background:#eb81eb;border-radius:1px"></div>
<div class="t lg1" id="lg13" style="left:1063.5px;top:273.9px">austin.terry@o365droid.on...</div>
<div class="t lg2" style="left:1063.5px;top:286.8px">53</div>
<div style="left:1218.1px;top:273.5px;width:3.2px;height:27.2px;background:#f38af3;border-radius:1px"></div>
<div class="t lg1" id="lg14" style="left:1225.9px;top:273.9px">admin@o365droid.onmicros...</div>
<div class="t lg2" style="left:1225.9px;top:286.8px">49</div>
<div style="left:568.5px;top:314.5px;width:3.2px;height:27.2px;background:#fb92fb;border-radius:1px"></div>
<div class="t lg1" id="lg15" style="left:576.3px;top:314.9px">kingstonwilkins@o365droid....</div>
<div class="t lg2" style="left:576.3px;top:327.8px">37</div>
<div style="left:730.9px;top:314.5px;width:3.2px;height:27.2px;background:#ff9aff;border-radius:1px"></div>
<div class="t lg1" id="lg16" style="left:738.7px;top:314.9px">andrea.hunter@o365droid.o...</div>
<div class="t lg2" style="left:738.7px;top:327.8px">33</div>
<div style="left:893.3px;top:314.5px;width:3.2px;height:27.2px;background:#ffa3ff;border-radius:1px"></div>
<div class="t lg1" id="lg17" style="left:901.1px;top:314.9px">richardbranson@o365droid....</div>
<div class="t lg2" style="left:901.1px;top:327.8px">29</div>
<div style="left:1055.7px;top:314.5px;width:3.2px;height:27.2px;background:#ffabff;border-radius:1px"></div>
<div class="t lg1" id="lg18" style="left:1063.5px;top:314.9px">daisy.bush@o365droid.onmi...</div>
<div class="t lg2" style="left:1063.5px;top:327.8px">27</div>
<div style="left:1218.1px;top:314.5px;width:3.2px;height:27.2px;background:#ffb4ff;border-radius:1px"></div>
<div class="t lg1" id="lg19" style="left:1225.9px;top:314.9px">sabrina.summers@o365droi...</div>
<div class="t lg2" style="left:1225.9px;top:327.8px">23</div>
<!--TABLE-->
<div style="left:214.5px;top:436.5px;width:863px;height:308px;background:#f4f7f9"></div>
<div style="left:225px;top:446px;width:842.6px;height:37px;background:#cfe6ef"></div>
<div style="left:225px;top:483px;width:842.6px;height:224.2px;background:#fff"></div>
<div style="left:225px;top:707px;width:842.6px;height:37px;background:#e5f2f8"></div>
<div class="t td" style="left:233.2px;top:491.3px">25df087c-9f72-450c-86b8-1189c5936891</div>
<div class="t td" style="left:473.5px;top:491.3px">0</div>
<div class="t td" style="left:674.2px;top:491.3px">0</div>
<div class="t td" style="left:875.3px;top:491.3px">4</div>
<div style="left:225px;top:510.1px;width:842.6px;height:1px;background:#eaecee"></div>
<div class="t td" style="left:233.2px;top:519.4px">adammiller@o365droid.onmicrosoft.com</div>
<div class="t td" style="left:473.5px;top:519.4px">8</div>
<div class="t td" style="left:674.2px;top:519.4px">0</div>
<div class="t td" style="left:875.3px;top:519.4px">1</div>
<div style="left:225px;top:538.2px;width:842.6px;height:1px;background:#eaecee"></div>
<div class="t td" style="left:233.2px;top:547.5px">admin@o365droid.onmicrosoft.com</div>
<div class="t td" style="left:473.5px;top:547.5px">4599</div>
<div class="t td" style="left:674.2px;top:547.5px">49</div>
<div class="t td" style="left:875.3px;top:547.5px">32</div>
<div style="left:225px;top:566.3px;width:842.6px;height:1px;background:#eaecee"></div>
<div class="t td" style="left:233.2px;top:575.6px">admindroid_mailer@o365droid.onmicroso...</div>
<div class="t td" style="left:473.5px;top:575.6px">7</div>
<div class="t td" style="left:674.2px;top:575.6px">62</div>
<div class="t td" style="left:875.3px;top:575.6px">4</div>
<div style="left:225px;top:594.4px;width:842.6px;height:1px;background:#eaecee"></div>
<div class="t td" style="left:233.2px;top:603.7px">ameliaben@o365droid.onmicrosoft.com</div>
<div class="t td" style="left:473.5px;top:603.7px">12180</div>
<div class="t td" style="left:674.2px;top:603.7px">291</div>
<div class="t td" style="left:875.3px;top:603.7px">13</div>
<div style="left:225px;top:622.5px;width:842.6px;height:1px;background:#eaecee"></div>
<div class="t td" style="left:233.2px;top:631.8px">amy.tucker@o365droid.onmicrosoft.com</div>
<div class="t td" style="left:473.5px;top:631.8px">9615</div>
<div class="t td" style="left:674.2px;top:631.8px">229</div>
<div class="t td" style="left:875.3px;top:631.8px">20</div>
<div style="left:225px;top:650.5px;width:842.6px;height:1px;background:#eaecee"></div>
<div class="t td" style="left:233.2px;top:659.9px">andrea.hunter@o365droid.onmicrosoft.com</div>
<div class="t td" style="left:473.5px;top:659.9px">4867</div>
<div class="t td" style="left:674.2px;top:659.9px">33</div>
<div class="t td" style="left:875.3px;top:659.9px">15</div>
<div style="left:225px;top:678.6px;width:842.6px;height:1px;background:#eaecee"></div>
<div class="t td" style="left:233.2px;top:688.0px">andrea.kelly@o365droid.onmicrosoft.com</div>
<div class="t td" style="left:473.5px;top:688.0px">6</div>
<div class="t td" style="left:674.2px;top:688.0px">3</div>
<div class="t td" style="left:875.3px;top:688.0px">9</div>
<div style="left:465.2px;top:446.2px;width:1px;height:261px;background:#dfe5e8"></div>
<div style="left:466.2px;top:446.2px;width:2px;height:261px;background:linear-gradient(90deg,rgba(0,0,0,0.05),rgba(0,0,0,0))"></div>
<div class="t th" style="left:233.2px;top:457.6px">Signed-in User</div>
<div class="t th" style="left:473.5px;top:457.6px">Successful Sign-In Count</div>
<div class="t th" style="left:674.2px;top:457.6px">Failed Sign-In Count</div>
<div class="t th" style="left:875.3px;top:457.6px">Sign-in Interrupt Count</div>
<svg style="left:308.5px;top:460.5px" width="7" height="5" viewBox="0 0 7 5"><path d="M0.8 4L3.5 1.2L6.2 4" fill="none" stroke="#169a9a" stroke-width="1.1"/></svg>
<svg style="left:457.1px;top:458px" width="2.4" height="10" viewBox="0 0 2.4 10"><circle cx="1.2" cy="1.2" r="1.2" fill="#169a9a"/><circle cx="1.2" cy="5" r="1.2" fill="#169a9a"/><circle cx="1.2" cy="8.8" r="1.2" fill="#169a9a"/></svg>
<svg style="left:657.8px;top:458px" width="2.4" height="10" viewBox="0 0 2.4 10"><circle cx="1.2" cy="1.2" r="1.2" fill="#169a9a"/><circle cx="1.2" cy="5" r="1.2" fill="#169a9a"/><circle cx="1.2" cy="8.8" r="1.2" fill="#169a9a"/></svg>
<svg style="left:858.4px;top:458px" width="2.4" height="10" viewBox="0 0 2.4 10"><circle cx="1.2" cy="1.2" r="1.2" fill="#169a9a"/><circle cx="1.2" cy="5" r="1.2" fill="#169a9a"/><circle cx="1.2" cy="8.8" r="1.2" fill="#169a9a"/></svg>
<svg style="left:1031.0px;top:458px" width="2.4" height="10" viewBox="0 0 2.4 10"><circle cx="1.2" cy="1.2" r="1.2" fill="#169a9a"/><circle cx="1.2" cy="5" r="1.2" fill="#169a9a"/><circle cx="1.2" cy="8.8" r="1.2" fill="#169a9a"/></svg>
<svg style="left:984px;top:458px" width="9" height="9" viewBox="0 0 8 8"><circle cx="4" cy="4" r="3.4" fill="none" stroke="#888" stroke-width="0.7"/><path d="M4 3.4V6M4 2V2.8" stroke="#888" stroke-width="0.8"/></svg>
<div style="left:1076.5px;top:448.6px;width:6.8px;height:35.6px;background:#fff;border-radius:0 3px 3px 0;box-shadow:0.5px 0.5px 2px rgba(0,0,0,0.22)"></div>
<div style="left:1041.8px;top:448.6px;width:38px;height:30.4px;background:#fff;border-radius:15.2px 0 0 15.2px"></div>
<svg style="left:1054.3px;top:455.6px" width="20" height="18" viewBox="0 0 20 18"><g fill="none" stroke="#6e6e6e" stroke-width="1"><path d="M12 14.4H0.6V0.6H18.4V7"/><path d="M0.6 4.6H18.4M6.4 4.6V14.4M12.4 4.6V7.6"/></g><g fill="#6e6e6e" transform="translate(0.3 0.8)"><circle cx="14.6" cy="12.4" r="3"/><rect x="13.8" y="8.2" width="1.6" height="8.4"/><rect x="10.4" y="11.6" width="8.4" height="1.6"/><rect x="13.8" y="8.2" width="1.6" height="8.4" transform="rotate(45 14.6 12.4)"/><rect x="13.8" y="8.2" width="1.6" height="8.4" transform="rotate(-45 14.6 12.4)"/></g><circle cx="14.9" cy="13.2" r="1.6" fill="#fff"/></svg>
<div class="t tf" style="left:629.7px;top:719.5px">Go to Page</div>
<div style="left:688.7px;top:716.3px;width:31.5px;height:15.4px;background:#fff;border:1px solid #dfe6ea;border-radius:2px"></div>
<div class="t tf" style="left:696.8px;top:719.2px;font-size:10.4px">1</div>
<svg style="left:725.5px;top:720.5px" width="9" height="7" viewBox="0 0 9 7"><path d="M0.8 4.4H6.4A1.9 1.9 0 0 0 6.4 0.6H5.4M2.8 2.4L0.8 4.4L2.8 6.4" fill="none" stroke="#555" stroke-width="0.9"/></svg>
<div class="t tf" style="left:756px;top:719.5px">Page Size</div>
<div style="left:809.3px;top:716.3px;width:31.5px;height:15.4px;background:#fff;border:1px solid #dfe6ea;border-radius:2px"></div>
<div class="t tf" style="left:819.3px;top:719.3px;font-size:10.4px">20</div>
<div class="t tf" id="shw" style="left:865.7px;top:719.5px">Showing <b style="color:#444;font-weight:normal;-webkit-text-stroke:0.25px #444">1 - 20</b> of Many Sign-ins</div>
<svg style="left:1031.5px;top:720.5px" width="5" height="8" viewBox="0 0 5 8"><path d="M4.6 0.4V7.6L0.6 4Z" fill="#c4d0d6"/></svg>
<svg style="left:1049.5px;top:720px" width="5" height="9" viewBox="0 0 5 9"><path d="M0.4 0.4V8.6L4.6 4.5Z" fill="#444"/></svg>
<div class="t" id="wm" style="left:1411.5px;top:718.4px;font-size:13.6px;color:#989898;-webkit-text-stroke:0.2px #fff">admindroid.com</div>
<div style="left:190.5px;top:740.8px;width:1343.5px;height:3px;background:#fff"></div>
<div style="left:0;top:743.8px;width:1536px;height:2.2px;background:#000"></div>

</div>
</body></html>
